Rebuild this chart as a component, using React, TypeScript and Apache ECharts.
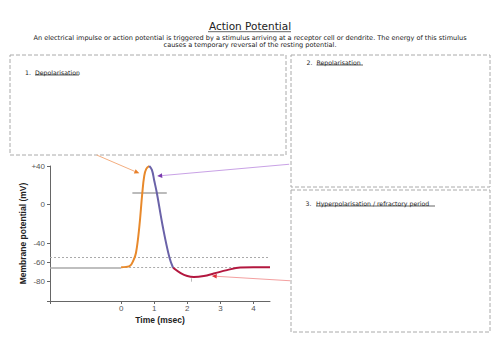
import React, { useEffect, useRef } from "react";
import * as echarts from "echarts";

// Curve segments (time in msec, membrane potential in mV)
const depolTime = [0, 0.15, 0.27, 0.37, 0.45, 0.55, 0.64, 0.7, 0.76, 0.85];
const depolMv = [-65, -64.6, -63.5, -58, -50, -23, 12, 30, 37, 40];
const repolTime = [0.85, 0.93, 1.0, 1.08, 1.26, 1.46, 1.57];
const repolMv = [40, 36, 25, 12, -23, -55, -65.5];
const hyperTime = [1.57, 1.8, 2.0, 2.2, 2.5, 2.8, 3.2, 3.6, 4.0, 4.5];
const hyperMv = [-65.5, -71, -74, -75, -74, -71.5, -68, -65.3, -65, -65];

const yLabelValues = [40, 0, -40, -60, -80];
const xLabelValues = [0, 1, 2, 3, 4];
const X_MIN = -2.15;
const X_MAX = 4.5;
const Y_MIN = -100;
const Y_MAX = 40;
const thresholdMv = -55;
const restingMv = -65;
const peakBarMv = 12;
const peakBarTimes = [0.34, 1.38];

// annotation arrows: [tail (t, mV), head (t, mV)]
const arrowOrange = [[-0.74, 51.4], [0.55, 32.4]];
const arrowPurple = [[5.08, 41.8], [1.09, 29.6]];
const arrowRed = [[5.11, -79], [2.74, -74.1]];

const titleText = "Action Potential";
const introLines = [
  "An electrical impulse or action potential is triggered by a stimulus arriving at a receptor cell or dendrite. The energy of this stimulus",
  "causes a temporary reversal of the resting potential.",
];
const boxLabels = ["Depolarisation", "Repolarisation", "Hyperpolarisation / refractory period"];

const zip = (t: number[], v: number[]) => t.map((x, i) => [x, v[i]]);

export default function App() {
  const ref = useRef<HTMLDivElement>(null);
  useEffect(() => {
    document.body.style.margin = "0";
    const chart = echarts.init(ref.current!, null, { renderer: "svg" });
    const tickFont = { fontFamily: "Liberation Sans", fontSize: 8, color: "#555" };
    const docFont = "DejaVu Sans";
    const boxStyle = { fill: "none", stroke: "#aaa", lineWidth: 1, lineDash: [4, 2] };
    const txt = (x: number, y: number, text: string, size: number, align = "left") => ({
      type: "text",
      x,
      y,
      style: { text, fontSize: size, fontFamily: docFont, fill: "#222", textAlign: align, textVerticalAlign: "middle" },
    });
    const uline = (x1: number, x2: number, y: number) => ({
      type: "line",
      shape: { x1, y1: y, x2, y2: y },
      style: { stroke: "#222", lineWidth: 0.7 },
    });

    chart.setOption({
      animation: false,
      grid: { left: 50, right: 230, top: 166, bottom: 52 },
      xAxis: {
        type: "value",
        min: X_MIN,
        max: X_MAX,
        splitLine: { show: false },
        axisLine: { onZero: false, lineStyle: { color: "#666", width: 1 } },
        axisTick: { length: 3, lineStyle: { color: "#666" }, customValues: [X_MIN, ...xLabelValues] },
        axisLabel: { ...tickFont, margin: 3, customValues: xLabelValues },
        name: "Time (msec)",
        nameLocation: "middle",
        nameGap: 14,
        nameTextStyle: { fontFamily: "Liberation Sans", fontSize: 8.5, fontWeight: "bold", color: "#222" },
      },
      yAxis: {
        type: "value",
        min: Y_MIN,
        max: Y_MAX,
        splitLine: { show: false },
        axisLine: { onZero: false, lineStyle: { color: "#666", width: 1 } },
        axisTick: { length: 3, lineStyle: { color: "#666" }, customValues: [...yLabelValues, Y_MIN] },
        axisLabel: {
          ...tickFont,
          margin: 5,
          customValues: yLabelValues,
          formatter: (v: number) => (v > 0 ? "+" + v : String(v)),
        },
        name: "Membrane potential (mV)",
        nameLocation: "middle",
        nameGap: 21,
        nameTextStyle: { fontFamily: "Liberation Sans", fontSize: 8.5, fontWeight: "bold", color: "#222" },
      },
      series: [
        {
          type: "line",
          data: zip(depolTime, depolMv),
          smooth: 0.4,
          showSymbol: false,
          lineStyle: { color: "#E8892B", width: 2 },
          z: 5,
        },
        {
          type: "line",
          data: zip(repolTime, repolMv),
          smooth: 0.4,
          showSymbol: false,
          lineStyle: { color: "#6A62A8", width: 2 },
          z: 5,
        },
        {
          type: "line",
          data: zip(hyperTime, hyperMv),
          smooth: 0.4,
          showSymbol: false,
          lineStyle: { color: "#B3173F", width: 2 },
          z: 5,
          markLine: {
            silent: true,
            symbol: "none",
            label: { show: false },
            emphasis: { disabled: true },
            data: [
              [
                { coord: [X_MIN, thresholdMv], lineStyle: { color: "#aaa", type: [2, 2], width: 1 } },
                { coord: [X_MAX, thresholdMv] },
              ],
              [
                { coord: [X_MIN, restingMv], lineStyle: { color: "#aaa", type: "solid", width: 1.5 } },
                { coord: [0, restingMv] },
              ],
              [
                { coord: [0, restingMv], lineStyle: { color: "#aaa", type: [2, 2], width: 1 } },
                { coord: [X_MAX, restingMv] },
              ],
              [
                { coord: [peakBarTimes[0], peakBarMv], lineStyle: { color: "#bbb", type: "solid", width: 2 } },
                { coord: [peakBarTimes[1], peakBarMv] },
              ],
              [
                { coord: [2.12, -76.5], lineStyle: { color: "#bbb", type: "solid", width: 1 } },
                { coord: [2.12, -80] },
              ],
            ],
          },
        },
      ],
    });

    const arrowEls = (a: number[][], lineColor: string, headColor: string) => {
      const p0 = chart.convertToPixel({ gridIndex: 0 }, a[0]) as number[];
      const p1 = chart.convertToPixel({ gridIndex: 0 }, a[1]) as number[];
      const dx = p1[0] - p0[0];
      const dy = p1[1] - p0[1];
      const len = Math.sqrt(dx * dx + dy * dy) || 1;
      const ux = dx / len;
      const uy = dy / len;
      const hl = 5;
      const hw = 2.3;
      const bx = p1[0] - ux * hl;
      const by = p1[1] - uy * hl;
      return [
        {
          type: "line",
          shape: { x1: p0[0], y1: p0[1], x2: bx, y2: by },
          style: { stroke: lineColor, lineWidth: 1 },
          z: 10,
        },
        {
          type: "polygon",
          shape: {
            points: [
              [p1[0], p1[1]],
              [bx - uy * hw, by + ux * hw],
              [bx + uy * hw, by - ux * hw],
            ],
          },
          style: { fill: headColor },
          z: 10,
        },
      ];
    };

    chart.setOption({
      graphic: [
        { type: "rect", shape: { x: 10, y: 55, width: 276, height: 100 }, style: boxStyle },
        { type: "rect", shape: { x: 291, y: 55, width: 199, height: 132 }, style: boxStyle },
        { type: "rect", shape: { x: 291, y: 190, width: 199, height: 142 }, style: boxStyle },
        txt(250, 26, titleText, 10.5, "center"),
        uline(208, 291, 31.7),
        txt(250, 37.5, introLines[0], 6.55, "center"),
        txt(250, 45, introLines[1], 6.55, "center"),
        txt(25, 72, "1.", 6.2),
        txt(35, 72, boxLabels[0], 6.2),
        uline(35, 79, 75),
        txt(306.5, 62, "2.", 6.2),
        txt(316.5, 62, boxLabels[1], 6.2),
        uline(316.5, 363, 65),
        txt(305.5, 203, "3.", 6.2),
        txt(316, 203, boxLabels[2], 6.2),
        uline(316, 435, 206),
        ...arrowEls(arrowOrange, "#F4AE80", "#E8802A"),
        ...arrowEls(arrowPurple, "#C9A2E6", "#7A3AAE"),
        ...arrowEls(arrowRed, "#F4A0A0", "#E0303A"),
      ],
    });
    return () => chart.dispose();
  }, []);
  return <div ref={ref} style={{ width: 500, height: 353 }} />;
}
